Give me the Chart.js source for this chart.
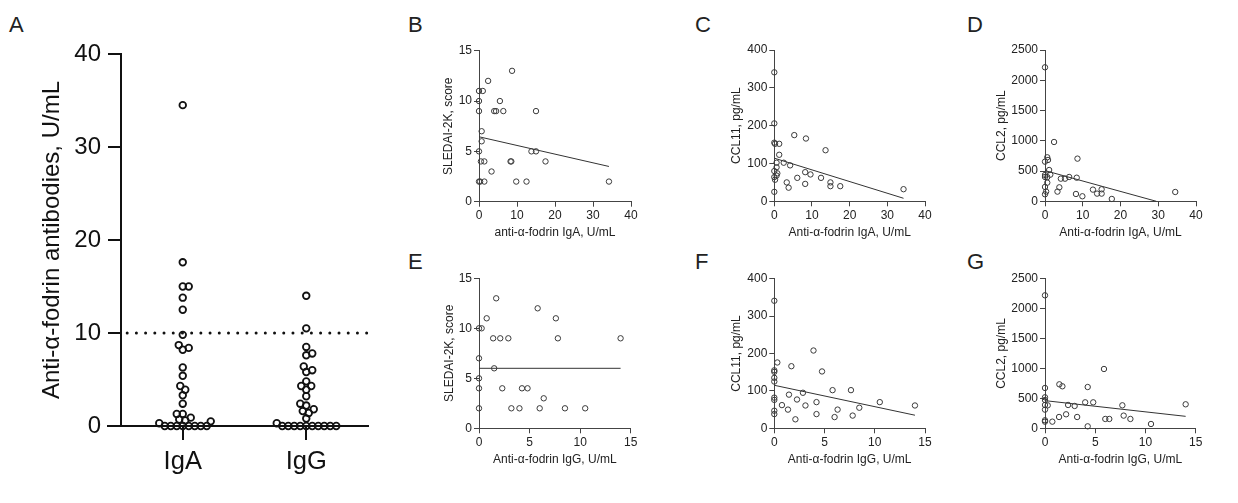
<!DOCTYPE html>
<html><head><meta charset="utf-8">
<script src="https://cdn.jsdelivr.net/npm/chart.js@4.4.1/dist/chart.umd.min.js"></script>
<style>
html,body{margin:0;padding:0;background:#fff;width:1238px;height:503px;overflow:hidden}
canvas{position:absolute;left:0;top:0}
.lbl{position:absolute;font-family:'Liberation Sans',Arial,sans-serif;font-size:22px;line-height:22px;color:#222}
</style></head><body>
<div class="lbl" style="left:9px;top:14px">A</div>
<div class="lbl" style="left:408px;top:14px">B</div>
<div class="lbl" style="left:695px;top:14px">C</div>
<div class="lbl" style="left:967px;top:14px">D</div>
<div class="lbl" style="left:408px;top:251px">E</div>
<div class="lbl" style="left:695px;top:251px">F</div>
<div class="lbl" style="left:967px;top:251px">G</div>
<canvas id="cA" width="1238" height="503"></canvas>
<canvas id="cB" width="1238" height="503"></canvas>
<canvas id="cC" width="1238" height="503"></canvas>
<canvas id="cD" width="1238" height="503"></canvas>
<canvas id="cE" width="1238" height="503"></canvas>
<canvas id="cF" width="1238" height="503"></canvas>
<canvas id="cG" width="1238" height="503"></canvas>
<script>
// ---------- DATA ----------
const categoriesA = ['IgA', 'IgG'];
const iga = [34.5, 17.6, 15.0, 15.0, 13.8, 12.5, 9.8, 8.7, 8.4, 8.2, 6.3, 5.4, 4.3, 3.9, 3.3, 2.4,
             1.3, 1.3, 0.9, 0.7, 0.6, 0.5, 0.3, 0, 0, 0, 0, 0, 0, 0, 0];
const igg = [14.0, 10.5, 8.5, 7.8, 7.6, 6.4, 6.0, 5.8, 4.8, 4.3, 4.3, 3.9, 3.2, 2.4, 2.2, 1.8,
             1.6, 1.4, 0.8, 0.3, 0, 0, 0, 0, 0, 0, 0, 0, 0, 0];
const cutoff = 10;
const yTicksA = [0, 10, 20, 30, 40];

// B: IgA vs SLEDAI-2K
const bX = [0, 1.0, 0, 0, 2.4, 5.5, 4.0, 4.5, 6.4, 8.7, 15.0, 0.7, 0.7, 0, 13.8, 15.0, 0.5, 1.4, 8.3, 8.5, 17.5, 3.3, 0, 0.3, 1.4, 9.8, 12.5, 34.2];
const bY = [11, 11, 10, 9, 12, 10, 9, 9, 9, 13, 9, 7, 6, 5, 5, 5, 4, 4, 4, 4, 4, 3, 2, 2, 2, 2, 2, 2];
const bFitX = [0, 34.2], bFitY = [6.45, 3.5];

// C: IgA vs CCL11
const cX = [0, 0, 0, 0.2, 1.3, 1.3, 0.6, 2.5, 0, 0.6, 0.8, 0.6, 0, 0.2, 0, 4.2, 5.3, 8.4, 13.6, 3.3, 3.8, 6.1, 8.2, 8.2, 9.6, 12.4, 14.9, 14.9, 17.5, 34.3];
const cY = [341, 206, 155, 152, 152, 123, 102, 102, 80, 90, 74, 68, 64, 57, 25, 95, 175, 166, 135, 50, 36, 62, 46, 77, 71, 62, 50, 40, 40, 32];
const cFitX = [0, 34.3], cFitY = [114, 8];

// D: IgA vs CCL2
const dX = [0, 0, 0.6, 0.8, 2.4, 8.6, 0, 0, 0.6, 1.1, 1.4, 0.6, 0, 0.3, 0, 4.2, 5.3, 6.4, 8.4, 3.8, 3.3, 8.2, 9.9, 12.7, 13.8, 15.0, 15.0, 17.7, 34.5];
const dY = [2214, 655, 727, 683, 980, 705, 435, 402, 400, 517, 440, 308, 237, 160, 116, 374, 374, 402, 390, 231, 160, 121, 83, 193, 127, 127, 198, 39, 154];
const dFitX = [0, 29.5], dFitY = [507, 0];

// E: IgG vs SLEDAI-2K
const eX = [1.7, 0.76, 0, 0.26, 1.4, 2.1, 2.9, 5.8, 7.6, 7.8, 14.0, 0, 1.5, 0, 0, 2.3, 4.25, 4.8, 6.4, 0, 3.2, 4.0, 6.0, 8.5, 10.5];
const eY = [13, 11, 10, 10, 9, 9, 9, 12, 11, 9, 9, 7, 6, 5, 4, 4, 4, 4, 3, 2, 2, 2, 2, 2, 2];
const eFitX = [0, 14], eFitY = [6.0, 6.0];

// F: IgG vs CCL11
const fX = [0, 0, 0, 0, 0, 0.3, 1.7, 3.9, 4.75, 0, 0, 0, 0, 0.76, 1.46, 1.36, 2.26, 2.85, 3.1, 2.1, 4.2, 4.2, 5.8, 6.3, 6.0, 7.63, 7.8, 8.46, 10.5, 14.0];
const fY = [341, 155, 151, 135, 125, 176, 166, 208, 152, 82, 76, 47, 38, 62, 90, 50, 77, 95, 61, 24, 70, 38, 102, 50, 30, 102, 34, 55, 70, 61];
const fFitX = [0, 14], fFitY = [115, 35];

// G: IgG vs CCL2
const gX = [0, 0, 0, 0, 0, 0, 0, 0, 0.27, 1.43, 1.73, 0.73, 1.4, 2.1, 2.3, 2.95, 3.2, 4.0, 4.25, 4.25, 4.8, 5.87, 6.0, 6.4, 7.7, 7.83, 8.5, 10.55, 14.0];
const gY = [2222, 674, 518, 473, 390, 312, 134, 111, 384, 735, 702, 111, 189, 234, 390, 373, 189, 434, 690, 33, 434, 991, 156, 156, 384, 212, 156, 72, 401];
const gFitX = [0, 14], gFitY = [462, 200];

// ---------- RENDERING ----------
const FONT = "'Liberation Sans', Arial, sans-serif";
Chart.defaults.font.family = FONT;
Chart.defaults.color = '#222';
const PW = 1238, PH = 503;

function zeroPad(s) { s.paddingLeft = 0; s.paddingRight = 0; s.paddingTop = 0; s.paddingBottom = 0; }
function pairs(xs, ys) { return xs.map((x, i) => ({x: x, y: ys[i]})); }
const plain = v => String(v);

function makeScatter(id, g) {
  const fs = 12, lh = fs * 1.2;
  const L = g.yTitleX - lh / 2;
  const W = g.left - L;
  const H = g.xTitleY + lh / 2 - g.bottom;
  const axisCol = '#444';
  new Chart(document.getElementById(id), {
    type: 'scatter',
    data: {datasets: [
      {data: pairs(g.fitX, g.fitY), showLine: true, borderColor: '#333', borderWidth: 1, pointRadius: 0, clip: false, order: 2},
      {data: pairs(g.xs, g.ys), pointRadius: 2.7, pointBorderWidth: 1, pointBorderColor: '#3a3a3a',
       pointBackgroundColor: 'rgba(255,255,255,0)', clip: false, order: 1}
    ]},
    options: {
      responsive: false, animation: false, events: [],
      layout: {padding: {left: L, top: g.top, right: PW - g.right, bottom: PH - g.bottom - H}},
      plugins: {legend: {display: false}, tooltip: {enabled: false}},
      scales: {
        x: {type: 'linear', min: 0, max: g.xMax,
            ticks: {stepSize: g.xStep, padding: 2, maxRotation: 0, font: {size: fs}, color: '#222', callback: plain},
            grid: {drawOnChartArea: false, tickLength: 5, color: axisCol},
            border: {color: axisCol, width: 1},
            title: {display: true, text: g.xTitle, font: {size: fs}, color: '#222', padding: 0},
            afterFit: s => { s.height = H; zeroPad(s); }},
        y: {type: 'linear', min: 0, max: g.yMax,
            ticks: {stepSize: g.yStep, padding: 2, font: {size: fs}, color: '#222', callback: plain},
            grid: {drawOnChartArea: false, tickLength: 5, color: axisCol},
            border: {color: axisCol, width: 1},
            title: {display: true, text: g.yTitle, font: {size: fs}, color: '#222', padding: 0},
            afterFit: s => { s.width = W; zeroPad(s); }}
      }
    }
  });
}

makeScatter('cB', {left: 479, right: 631, top: 50.7, bottom: 201.7, yTitleX: 449, xTitleY: 233,
  xMax: 40, xStep: 10, yMax: 15, yStep: 5, xTitle: 'anti-\u03b1-fodrin IgA, U/mL', yTitle: 'SLEDAI-2K, score',
  xs: bX, ys: bY, fitX: bFitX, fitY: bFitY});
makeScatter('cC', {left: 774.3, right: 925, top: 50, bottom: 201.3, yTitleX: 737, xTitleY: 233,
  xMax: 40, xStep: 10, yMax: 400, yStep: 100, xTitle: 'Anti-\u03b1-fodrin IgA, U/mL', yTitle: 'CCL11, pg/mL',
  xs: cX, ys: cY, fitX: cFitX, fitY: cFitY});
makeScatter('cD', {left: 1045, right: 1196, top: 50, bottom: 201.3, yTitleX: 1002, xTitleY: 233,
  xMax: 40, xStep: 10, yMax: 2500, yStep: 500, xTitle: 'Anti-\u03b1-fodrin IgA, U/mL', yTitle: 'CCL2, pg/mL',
  xs: dX, ys: dY, fitX: dFitX, fitY: dFitY});
makeScatter('cE', {left: 479, right: 630.7, top: 278.3, bottom: 428.3, yTitleX: 449.3, xTitleY: 460,
  xMax: 15, xStep: 5, yMax: 15, yStep: 5, xTitle: 'Anti-\u03b1-fodrin IgG, U/mL', yTitle: 'SLEDAI-2K, score',
  xs: eX, ys: eY, fitX: eFitX, fitY: eFitY});
makeScatter('cF', {left: 774.3, right: 925, top: 278.7, bottom: 428.3, yTitleX: 737, xTitleY: 460,
  xMax: 15, xStep: 5, yMax: 400, yStep: 100, xTitle: 'Anti-\u03b1-fodrin IgG, U/mL', yTitle: 'CCL11, pg/mL',
  xs: fX, ys: fY, fitX: fFitX, fitY: fFitY});
makeScatter('cG', {left: 1045, right: 1195.7, top: 278.7, bottom: 428.3, yTitleX: 1002, xTitleY: 460,
  xMax: 15, xStep: 5, yMax: 2500, yStep: 500, xTitle: 'Anti-\u03b1-fodrin IgG, U/mL', yTitle: 'CCL2, pg/mL',
  xs: gX, ys: gY, fitX: gFitX, fitY: gFitY});

// ---------- Panel A ----------
(function () {
  const left = 121, right = 368, top = 54, bottom = 426;
  const xMin = 0.5, xMax = 2.5, yMax = 40;
  const fs = 24, lh = fs * 1.2;
  const yTitleX = 52;
  const L = yTitleX - lh / 2, W = left - L, H = 60;
  const pxX = (right - left) / (xMax - xMin), pxY = (bottom - top) / yMax;
  // beeswarm layout computed from the values
  function swarm(values, center, minDist) {
    const idx = values.map((v, i) => i).sort((a, b) => values[a] - values[b]);
    const placed = [], out = [];
    idx.forEach(i => {
      const py = values[i] * pxY;
      for (let k = 0; k < 400; k++) {
        const off = (k % 2 === 1 ? 1 : -1) * Math.ceil(k / 2) * 0.5;
        let ok = true;
        for (const p of placed) {
          const dx = off - p.x, dy = py - p.y;
          if (dx * dx + dy * dy < minDist * minDist) { ok = false; break; }
        }
        if (ok) { placed.push({x: off, y: py}); out.push({x: center + off / pxX, y: values[i]}); break; }
      }
    });
    return out;
  }
  const ptsA = swarm(iga, 1, 6.0), ptsG = swarm(igg, 2, 6.0);
  const axisExt = {
    id: 'axisExt',
    afterDraw(chart) {
      const ctx = chart.ctx, ca = chart.chartArea;
      const yb = chart.scales.y.getPixelForValue(0);
      ctx.save(); ctx.strokeStyle = '#111'; ctx.lineWidth = 2;
      ctx.beginPath(); ctx.moveTo(ca.left - 14, Math.round(yb)); ctx.lineTo(ca.left, Math.round(yb)); ctx.stroke();
      ctx.restore();
    }
  };
  const ptStyle = {pointRadius: 3.3, pointBorderWidth: 1.8, pointBorderColor: '#111',
                   pointBackgroundColor: 'rgba(255,255,255,0)', clip: false};
  new Chart(document.getElementById('cA'), {
    type: 'scatter',
    data: {datasets: [
      Object.assign({data: ptsA}, ptStyle),
      Object.assign({data: ptsG}, ptStyle),
      {data: [{x: xMin + 0.05, y: cutoff}, {x: xMax, y: cutoff}], showLine: true, pointRadius: 0,
       borderColor: '#111', borderWidth: 3, borderDash: [0.01, 9.2], borderCapStyle: 'round', clip: false}
    ]},
    plugins: [axisExt],
    options: {
      responsive: false, animation: false, events: [],
      layout: {padding: {left: L, top: top, right: PW - right, bottom: PH - bottom - H}},
      plugins: {legend: {display: false}, tooltip: {enabled: false}},
      scales: {
        x: {type: 'linear', min: xMin, max: xMax,
            afterBuildTicks: s => { s.ticks = categoriesA.map((c, i) => ({value: i + 1})); },
            ticks: {callback: v => categoriesA[Math.round(v) - 1], padding: 7, maxRotation: 0, font: {size: 25.5}, color: '#111'},
            grid: {drawOnChartArea: false, tickLength: 14, color: '#111', lineWidth: 2},
            border: {color: '#111', width: 2},
            afterFit: s => { s.height = H; zeroPad(s); }},
        y: {type: 'linear', min: 0, max: yMax,
            afterBuildTicks: s => { s.ticks = yTicksA.map(v => ({value: v})); },
            ticks: {padding: 7, font: {size: fs}, color: '#111'},
            grid: {drawOnChartArea: false, tickLength: 13, color: '#111', lineWidth: 2},
            border: {color: '#111', width: 2},
            title: {display: true, text: 'Anti-\u03b1-fodrin antibodies, U/mL', font: {size: fs}, color: '#111', padding: 0},
            afterFit: s => { s.width = W; zeroPad(s); }}
      }
    }
  });
})();
</script>
</body></html>
